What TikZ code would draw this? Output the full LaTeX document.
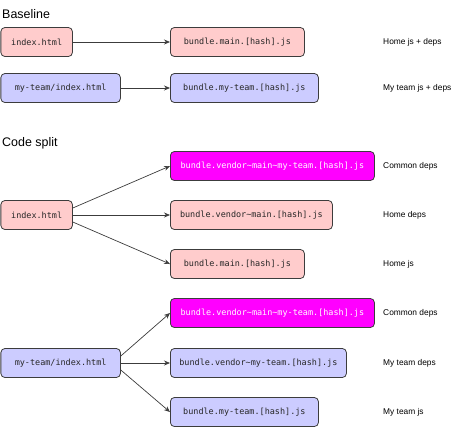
\documentclass[tikz,border=0pt]{standalone}
\usepackage{fontspec}
\setmainfont{Liberation Sans}
\setmonofont{DejaVu Sans Mono}
\usepackage{xcolor}
\definecolor{homepink}{RGB}{255,204,204}
\definecolor{teamblue}{RGB}{204,204,255}
\definecolor{commonmag}{RGB}{255,0,255}
\definecolor{edgegray}{RGB}{60,60,60}
\usetikzlibrary{arrows.meta,positioning}

\begin{document}
\begin{tikzpicture}[
    x=1bp, y=1bp,
    file/.style={rectangle, rounded corners=4bp, draw=edgegray, line width=0.8bp, minimum height=29bp, anchor=west, inner sep=0pt, font=\fontsize{8.5}{10}\selectfont\ttfamily, text=black!85},
    home/.style={file, fill=homepink},
    team/.style={file, fill=teamblue},
    common/.style={file, fill=commonmag, text=white},
    lbl/.style={anchor=west, inner sep=0pt, font=\fontsize{8.4}{10}\selectfont},
    ttl/.style={anchor=base west, inner sep=0pt, font=\fontsize{12.5}{14}\selectfont},
    dep/.style={-{Stealth[length=6bp,width=5bp]}, draw=edgegray, line width=0.7bp}
  ]
  \useasboundingbox (0,0) rectangle (474,-427);

  % Baseline
  \node[ttl] (tbase) at (2,-18) {Baseline};
  \node[home, minimum width=71.5bp] (bidx) at (0.5,-42) {index.html};
  \node[home, minimum width=134bp] (bmain) at (170,-42) {bundle.main.[hash].js};
  \node[lbl] (lbmain) at (383,-42) {Home js + deps};
  \draw[dep] (bidx) -- (bmain);

  \node[team, minimum width=119.5bp] (bteamidx) at (0.5,-88) {my-team/index.html};
  \node[team, minimum width=148bp] (bteam) at (170,-88) {bundle.my-team.[hash].js};
  \node[lbl] (lbteam) at (383,-88) {My team js + deps};
  \draw[dep] (bteamidx) -- (bteam);

  % Code split, home page
  \node[ttl] (tsplit) at (2,-146) {Code split};
  \node[home, minimum width=71.5bp] (sidx) at (0.5,-215) {index.html};
  \node[common, minimum width=204bp] (svmt) at (170,-166) {bundle.vendor\textasciitilde main\textasciitilde my-team.[hash].js};
  \node[home, minimum width=162bp] (svm) at (170,-215) {bundle.vendor\textasciitilde main.[hash].js};
  \node[home, minimum width=134bp] (smain) at (170,-264) {bundle.main.[hash].js};
  \node[lbl] (lsvmt) at (383,-166) {Common deps};
  \node[lbl] (lsvm) at (383,-215) {Home deps};
  \node[lbl] (lsmain) at (383,-264) {Home js};
  \draw[dep] ([yshift=7bp]sidx.east) -- (svmt.west);
  \draw[dep] (sidx) -- (svm);
  \draw[dep] ([yshift=-7bp]sidx.east) -- (smain.west);

  % Code split, my team page
  \node[team, minimum width=119.5bp] (steamidx) at (0.5,-363) {my-team/index.html};
  \node[common, minimum width=204bp] (svmt2) at (170,-313) {bundle.vendor\textasciitilde main\textasciitilde my-team.[hash].js};
  \node[team, minimum width=176bp] (svt) at (170,-363) {bundle.vendor\textasciitilde my-team.[hash].js};
  \node[team, minimum width=148bp] (steam) at (170,-412) {bundle.my-team.[hash].js};
  \node[lbl] (lsvmt2) at (383,-313) {Common deps};
  \node[lbl] (lsvt) at (383,-363) {My team deps};
  \node[lbl] (lsteam) at (383,-412) {My team js};
  \draw[dep] ([yshift=7bp]steamidx.east) -- (svmt2.west);
  \draw[dep] (steamidx) -- (svt);
  \draw[dep] ([yshift=-7bp]steamidx.east) -- (steam.west);
\end{tikzpicture}
\end{document}
